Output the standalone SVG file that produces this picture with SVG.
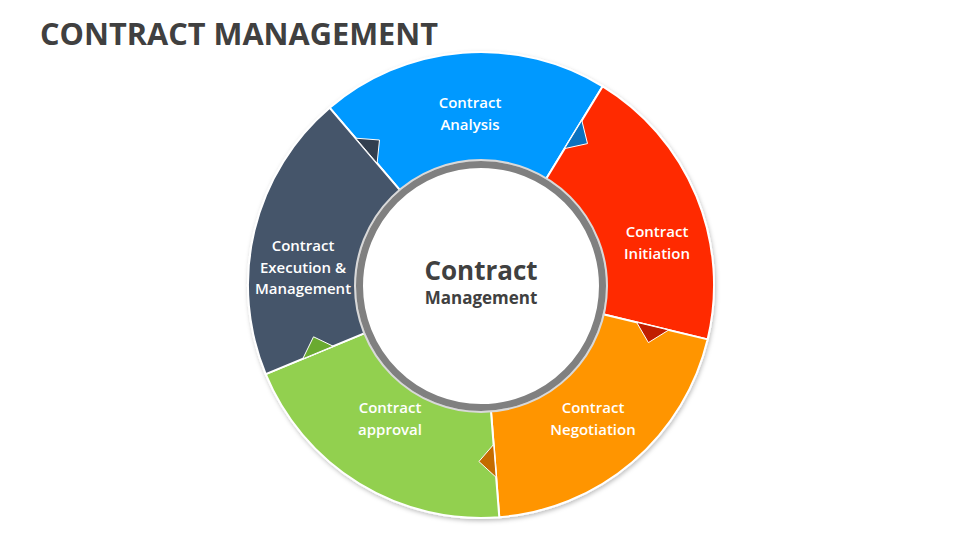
<svg xmlns="http://www.w3.org/2000/svg" width="960" height="540" viewBox="0 0 960 540">
<defs>
<filter id="sh" x="-10%" y="-10%" width="120%" height="120%">
<feDropShadow dx="1" dy="2" stdDeviation="2" flood-color="#000" flood-opacity="0.25"/>
</filter>
</defs>
<style>
.seg{stroke:#fff;stroke-width:2;stroke-linejoin:round}
.tab{stroke:#fff;stroke-width:1;stroke-linejoin:round}
.lbl{font-family:"Open Sans","Liberation Sans",sans-serif;font-size:15px;font-weight:600;fill:#fff;text-anchor:middle}
.ctr{font-family:"Open Sans","Liberation Sans",sans-serif;font-weight:bold;fill:#404040;text-anchor:middle}
</style>
<rect width="960" height="540" fill="#fff"/>
<text x="40" y="45" font-family="'Open Sans','Liberation Sans',sans-serif" font-weight="bold" font-size="31" fill="#404040" textLength="398" lengthAdjust="spacingAndGlyphs">CONTRACT MANAGEMENT</text>
<g filter="url(#sh)">
<g id="seg-analysis"><path class="seg" fill="#0099ff" d="M329.7,107.8 A233,233 0 0 1 602.7,86.3 L542.7,184.4 A118,118 0 0 0 404.4,195.3 Z"/></g>
<g id="seg-initiation"><path class="seg" fill="#ff2a00" d="M602.7,86.3 A233,233 0 0 1 707.6,339.4 L595.7,312.5 A118,118 0 0 0 542.7,184.4 Z"/></g>
<g id="seg-negotiation"><path class="seg" fill="#ff9500" d="M707.6,339.4 A233,233 0 0 1 499.3,517.3 L490.3,402.6 A118,118 0 0 0 595.7,312.5 Z"/></g>
<g id="seg-approval"><path class="seg" fill="#92d050" d="M499.3,517.3 A233,233 0 0 1 265.7,374.2 L372.0,330.2 A118,118 0 0 0 490.3,402.6 Z"/></g>
<g id="seg-execution"><path class="seg" fill="#44546a" d="M265.7,374.2 A233,233 0 0 1 329.7,107.8 L404.4,195.3 A118,118 0 0 0 372.0,330.2 Z"/></g>
</g>
<g id="connectors">
<polygon class="tab" fill="#323f4f" points="377.1,163.3 355.7,138.2 379.5,140.0"/>
<polygon class="tab" fill="#0a72c0" points="564.6,148.6 581.8,120.4 587.5,143.6"/>
<polygon class="tab" fill="#c01e00" points="636.6,322.3 668.7,330.0 648.4,342.6"/>
<polygon class="tab" fill="#c46c00" points="493.6,444.5 496.2,477.4 478.9,461.5"/>
<polygon class="tab" fill="#6aaa30" points="333.2,346.2 302.7,358.9 313.5,336.8"/>
</g>
<g id="labels">
<text class="lbl" x="470" y="108">Contract</text>
<text class="lbl" x="470" y="130">Analysis</text>
<text class="lbl" x="657" y="237">Contract</text>
<text class="lbl" x="657" y="259">Initiation</text>
<text class="lbl" x="593" y="413">Contract</text>
<text class="lbl" x="593" y="435">Negotiation</text>
<text class="lbl" x="390" y="413">Contract</text>
<text class="lbl" x="390" y="435">approval</text>
<text class="lbl" x="303" y="251">Contract</text>
<text class="lbl" x="303" y="273">Execution &amp;</text>
<text class="lbl" x="303" y="294">Management</text>
</g>
<g id="center">
<circle cx="481" cy="286" r="126" fill="#fff" stroke="#d9d9d9" stroke-width="2"/>
<circle cx="481" cy="286" r="121.5" fill="#fff" stroke="#808080" stroke-width="7"/>
<text class="ctr" x="481" y="280" font-size="26">Contract</text>
<text class="ctr" x="481" y="304" font-size="17">Management</text>
</g>
</svg>
